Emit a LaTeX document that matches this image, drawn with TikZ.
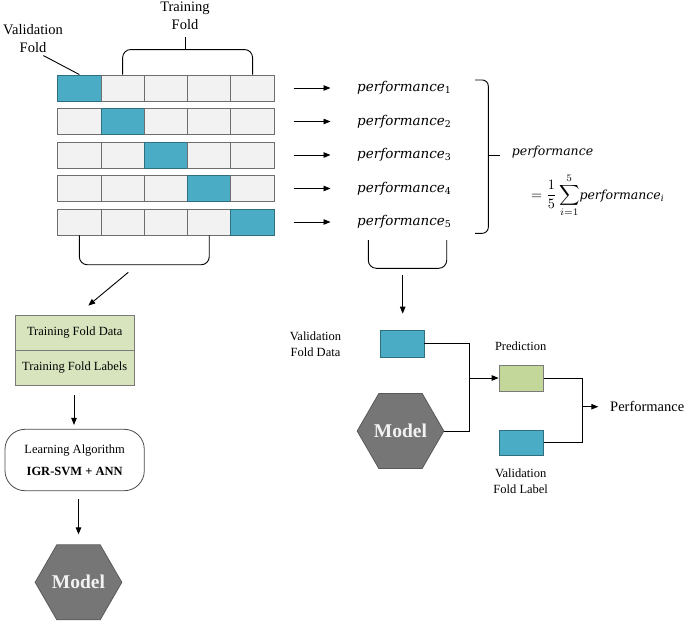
\documentclass[tikz,border=0pt]{standalone}
\usepackage{amsmath}
\usepackage{graphicx}
\usepackage{fontspec}
\setmainfont{Liberation Serif}
\newfontfamily\pfont{DejaVu Serif}
\usetikzlibrary{arrows.meta,shapes.geometric,calc}
\definecolor{cellgray}{HTML}{F2F2F2}
\definecolor{cellborder}{HTML}{6E6E6E}
\definecolor{vblue}{HTML}{4BACC6}
\definecolor{vborder}{HTML}{2F6F80}
\definecolor{tfgreen}{HTML}{D7E4BD}
\definecolor{predgreen}{HTML}{C4D79B}
\definecolor{boxborder}{HTML}{7A7A7A}
\definecolor{hexfill}{HTML}{767676}
\definecolor{hexborder}{HTML}{5A5A5A}
\definecolor{hextext}{HTML}{F2F2F2}
\newcommand{\perfword}{{\pfont\itshape performance}}
\tikzset{
  cell/.style={draw=cellborder, fill=cellgray, line width=0.9pt, minimum width=43.3pt, minimum height=26pt, inner sep=0pt},
  vcell/.style={cell, draw=vborder, fill=vblue},
  arr/.style={line width=0.9pt, -{Triangle[length=7pt,width=5.5pt]}},
  conn/.style={line width=0.9pt},
  bracel/.style={line width=0.9pt, rounded corners=8pt},
  perf/.style={inner sep=0pt, font=\fontsize{13.5}{16}\selectfont},
  lab/.style={inner sep=0pt, align=center, font=\fontsize{12.5}{15.5}\selectfont},
  biglab/.style={inner sep=0pt, align=center, font=\fontsize{14.5}{17.5}\selectfont},
  greenbox/.style={draw=boxborder, fill=tfgreen, line width=0.8pt, minimum width=119.3pt, minimum height=35pt, inner sep=0pt, font=\fontsize{12.5}{15}\selectfont},
  smallbox/.style={draw=boxborder, line width=0.8pt, minimum width=44.3pt, minimum height=26pt, inner sep=0pt},
  hexnode/.style={regular polygon, regular polygon sides=6, minimum size=85.6pt, inner sep=0pt, draw=hexborder, fill=hexfill, line width=0.8pt, text=hextext, font=\fontsize{19.5}{22}\selectfont\bfseries},
}
\begin{document}
\begin{tikzpicture}[x=1pt,y=-1pt]
\useasboundingbox[fill=white] (0,0) rectangle (685,621);

% grid of folds
\foreach \r in {1,...,5}{
  \foreach \c in {1,...,5}{
    \pgfmathsetmacro\cx{79.35+43.3*(\c-1)}
    \pgfmathsetmacro\cy{88+33.5*(\r-1)}
    \ifnum\r=\c
      \node[vcell] (c\r\c) at (\cx,\cy) {};
    \else
      \node[cell] (c\r\c) at (\cx,\cy) {};
    \fi
  }
}

% labels on top
\node[biglab] (trlab) at (185,16) {Training\\Fold};
\node[biglab] (vlab) at (33,38.5) {Validation\\Fold};
\draw[conn] ($(c11.north)+(-36,-19)$) -- (c11.north);
\draw[bracel] (c12.north) -- ++(0,-25) -| (c15.north);
\draw[conn] (185,50) -- (185,37);

% performance list
\foreach \r in {1,...,5}{
  \pgfmathsetmacro\py{88+33.5*(\r-1)}
  \node[perf, anchor=west] (p\r) at (357,\py) {\perfword\textsubscript{\pfont\r}};
  \draw[arr] ($(c\r5.east)+(19,0)$) -- ($(p\r.west)+(-26.5,0)$);
}

% right bracket
\coordinate (rb1) at (475,80);
\coordinate (rb2) at (475,233.3);
\draw[line width=0.9pt, rounded corners=6pt] (rb1) -- ++(13.3,0) |- (rb2);
\draw[conn] ($(rb1)+(13.3,75)$) -- ++(11.7,0);
\node[perf, anchor=west, font=\fontsize{12.5}{15}\selectfont] (ptot) at (511.7,152) {\perfword};
\node[perf, anchor=west, font=\fontsize{12.5}{15}\selectfont] (pform) at (531,195.5) {\scalebox{1.42}{\normalsize$\displaystyle =\frac{1}{5}\sum_{i=1}^{5}$}\perfword\textsubscript{\pfont\itshape i}};

% bottom brace under grid
\draw[bracel] (c51.south) -- ++(0,29.3) -| (c54.south);

% left column
\node[greenbox] (tfd) at (74.7,332.5) {Training Fold Data};
\node[greenbox] (tfl) at (74.7,367.5) {Training Fold Labels};
\draw[arr] ($(tfd.north)+(53.6,-42.3)$) -- ($(tfd.north)+(13.6,-9)$);
\node[draw=black!70, line width=0.8pt, rounded corners=20pt, minimum width=139.3pt, minimum height=61.4pt, inner sep=0pt, align=center, font=\fontsize{12.5}{21.7}\selectfont] (alg) at (74.65,460) {Learning Algorithm\\\textbf{IGR-SVM + ANN}};
\draw[arr] ($(tfl.south)+(-0.7,10)$) -- ($(alg.north)+(-0.65,-4)$);
\node[hexnode] (m1) at (78.5,582.3) {Model};
\draw[arr] ($(alg.south -| m1.north)+(0,8)$) -- ($(m1.north)+(0,-10)$);

% brace under performance_5
\coordinate (bl) at (368.3,240);
\coordinate (br) at (446.7,240);
\draw[bracel] (bl) -- ++(0,28.3) -| (br);

% right evaluation part
\node[smallbox, fill=vblue, draw=vborder, minimum width=44pt, minimum height=27.3pt] (vfd) at (402,343.7) {};
\draw[arr] ($(vfd.north)+(0.7,-55)$) -- ($(vfd.north)+(0.7,-16)$);
\node[lab] (vfdlab) at (315.5,344) {Validation\\Fold Data};
\node[hexnode] (m2) at (400.5,431) {Model};
\node[smallbox, fill=predgreen] (pred) at (521.15,378) {};
\node[lab] (predlab) at (520.7,346) {Prediction};
\node[smallbox, fill=vblue, draw=vborder, minimum height=25.7pt] (vfl) at (521.15,442.85) {};
\node[lab] (vfllab) at (520.7,481) {Validation\\Fold Label};
\coordinate (j1) at (469.3,378);
\coordinate (j2) at (582.7,406.7);
\draw[conn] (vfd.east) -| (j1) |- (m2.east);
\draw[arr] (j1) -- (pred.west);
\draw[conn] (pred.east) -| (j2) |- (vfl.east);
\node[perf, anchor=west, font=\fontsize{14.5}{17}\selectfont] (perfout) at (610,406.7) {Performance};
\draw[arr] (j2) -- ($(perfout.west)+(-11.7,0)$);
\end{tikzpicture}
\end{document}
